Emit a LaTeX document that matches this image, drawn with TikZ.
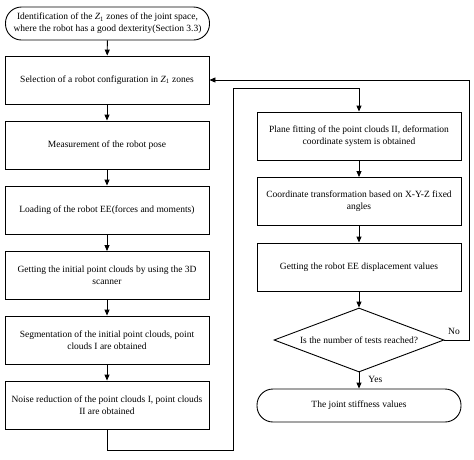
\documentclass[tikz,border=0pt]{standalone}
\usepackage{fontspec}
\setmainfont{Liberation Serif}
\usetikzlibrary{arrows.meta,shapes.geometric}
\begin{document}
\begin{tikzpicture}[x=1pt,y=-1pt,
  txt/.style={font=\fontsize{9.5}{12}\selectfont},
  box/.style={draw, rectangle, line width=0.9pt, minimum width=204pt, minimum height=48pt, align=center, inner sep=2pt, txt},
  term/.style={draw, rectangle, rounded corners=16pt, line width=0.9pt, minimum width=204pt, minimum height=33pt, align=center, inner sep=1pt, txt},
  dec/.style={draw, diamond, aspect=2.66, line width=0.9pt, minimum width=170pt, minimum height=64pt, inner sep=0pt, align=center, txt},
  arr/.style={-{Triangle[length=6pt,width=5pt]}, line width=0.9pt},
  ln/.style={line width=0.9pt},
  lab/.style={txt, inner sep=1pt}]
\useasboundingbox (0,0) rectangle (474,459);
\fill[white] (0,0) rectangle (474,459);
% left column
\node[term] (t0) at (107.5,23.5) {Identification of the \textit{Z}\textsubscript{1} zones of the joint space,\\where the robot has a good dexterity(Section 3.3)};
\node[box] (b1) at (107,80) {Selection of a robot configuration in \textit{Z}\textsubscript{1} zones};
\node[box] (b2) at (107,145) {Measurement of the robot pose};
\node[box] (b3) at (107,210) {Loading of the robot EE(forces and moments)};
\node[box] (b4) at (107,275.5) {Getting the initial point clouds by using the 3D\\scanner};
\node[box] (b5) at (107,340) {Segmentation of the initial point clouds, point\\clouds I are obtained};
\node[box] (b6) at (107,405) {Noise reduction of the point clouds I, point clouds\\II are obtained};
% right column
\node[box] (r1) at (359,136) {Plane fitting of the point clouds II, deformation\\coordinate system is obtained};
\node[box] (r2) at (359,201.5) {Coordinate transformation based on X-Y-Z fixed\\angles};
\node[box] (r3) at (359,267) {Getting the robot EE displacement values};
\node[dec] (d1) at (359,340) {Is the number of tests reached?};
\node[term] (t1) at (359,405.5) {The joint stiffness values};
% connectors
\draw[arr] (t0) -- (b1);
\draw[arr] (b1) -- (b2);
\draw[arr] (b2) -- (b3);
\draw[arr] (b3) -- (b4);
\draw[arr] (b4) -- (b5);
\draw[arr] (b5) -- (b6);
\coordinate (p1) at (107,450);
\coordinate (p2) at (233,450);
\coordinate (p3) at (233,88);
\coordinate (p4) at (359,88);
\draw[arr] (b6.south) -- (p1) -- (p2) -- (p3) -- (p4) -- (r1.north);
\draw[arr] (r1) -- (r2);
\draw[arr] (r2) -- (r3);
\draw[arr] (r3) -- (d1);
\draw[arr] (d1) -- node[lab, right, xshift=8pt, yshift=1pt] (yes) {Yes} (t1);
\coordinate (q1) at (469,340);
\coordinate (q2) at (469,80);
\draw[arr] (d1.east) -- (q1) -- (q2) -- (b1.east);
\node[lab] (no) at (454,331) {No};
\end{tikzpicture}
\end{document}
